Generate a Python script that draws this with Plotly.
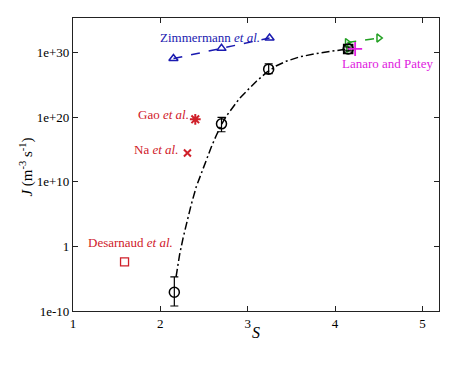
import plotly.graph_objects as go

# ---- data ----
sim_S = [2.16, 2.70, 3.24, 4.15]
sim_J = [8e-8, 1e19, 3e27, 4e30]
sim_J_hi = [2e-5, 1e20, 2e28, 8e30]
sim_J_lo = [6e-10, 6e17, 6e26, 2e30]

fit_S = [2.18, 2.22, 2.26, 2.30, 2.35, 2.41, 2.47, 2.53, 2.58, 2.64, 2.70, 2.76, 2.83, 2.91, 2.99, 3.10, 3.22, 3.33, 3.44, 3.60, 3.83, 4.06, 4.14]
fit_log10J = [-4.7, -1.3, 1.3, 3.6, 6.3, 9.2, 11.4, 13.5, 15.3, 17.2, 18.9, 20.3, 21.6, 23.0, 24.1, 25.6, 27.0, 28.0, 28.7, 29.4, 30.0, 30.45, 30.6]

zim_S = [2.15, 2.70, 3.25]
zim_J = [1.3e29, 5e30, 2e32]

grn_S = [4.14, 4.50]
grn_J = [4e31, 2e32]
grn2_S = [4.15]
grn2_J = [4e30]

lp_S = [4.23]
lp_J = [4e30]

gao_S = [2.40]
gao_J = [5e19]
na_S = [2.31]
na_J = [3e14]
des_S = [1.59]
des_J = [4e-3]

ytick_vals = [1e-10, 1, 1e10, 1e20, 1e30]
ytick_text = ["1e-10", "1", "1e+10", "1e+20", "1e+30"]
xtick_vals = [1, 2, 3, 4, 5]

RED = "#d0202a"
BLUE = "#1a1ab0"
GREEN = "#22a022"
MAG = "#e020e0"

fit_J = [10 ** v for v in fit_log10J]

fig = go.Figure()

fig.add_trace(go.Scatter(x=fit_S, y=fit_J, mode="lines", line=dict(color="black", width=1.5, dash="8px,3px,2px,3px"), hoverinfo="skip"))
fig.add_trace(go.Scatter(x=zim_S, y=zim_J, mode="lines+markers", line=dict(color=BLUE, width=1.5, dash="dash"),
                         marker=dict(symbol="triangle-up-open", size=8, color=BLUE, line=dict(width=1.5))))
fig.add_trace(go.Scatter(x=grn_S, y=grn_J, mode="lines+markers", line=dict(color=GREEN, width=1.5, dash="dash"),
                         marker=dict(symbol="triangle-right-open", size=7, color=GREEN, line=dict(width=1.5))))
fig.add_trace(go.Scatter(x=grn2_S, y=grn2_J, mode="markers",
                         marker=dict(symbol="square-open", size=9, color="black", line=dict(width=1.5))))
fig.add_trace(go.Scatter(x=grn2_S, y=grn2_J, mode="markers",
                         marker=dict(symbol="triangle-right-open", size=6, color=GREEN, line=dict(width=1.2))))

err_plus = [h - v for h, v in zip(sim_J_hi, sim_J)]
err_minus = [v - l for l, v in zip(sim_J_lo, sim_J)]
fig.add_trace(go.Scatter(x=sim_S, y=sim_J, mode="markers",
                         marker=dict(symbol="circle-open", size=10, color="black", line=dict(width=1.5)),
                         error_y=dict(type="data", symmetric=False, array=err_plus, arrayminus=err_minus,
                                      color="black", thickness=1.2, width=4)))
fig.add_trace(go.Scatter(x=lp_S, y=lp_J, mode="markers",
                         marker=dict(symbol="cross-thin-open", size=10, color=MAG, line=dict(width=1.8, color=MAG))))
fig.add_trace(go.Scatter(x=gao_S, y=gao_J, mode="markers",
                         marker=dict(symbol="asterisk-open", size=9, color=RED, line=dict(width=2, color=RED))))
fig.add_trace(go.Scatter(x=na_S, y=na_J, mode="markers",
                         marker=dict(symbol="x-thin-open", size=7, color=RED, line=dict(width=2, color=RED))))
fig.add_trace(go.Scatter(x=des_S, y=des_J, mode="markers",
                         marker=dict(symbol="square-open", size=8, color=RED, line=dict(width=1.3))))

font = "Liberation Serif"
ann = [
    dict(x=2.57, y=32.4, text="Zimmermann <i>et al.</i>", color=BLUE, xanchor="center"),
    dict(x=2.35, y=20.4, text="Gao <i>et al.</i>", color=RED, xanchor="right"),
    dict(x=2.23, y=15.1, text="Na <i>et al.</i>", color=RED, xanchor="right"),
    dict(x=1.66, y=0.6, text="Desarnaud <i>et al.</i>", color=RED, xanchor="center"),
    dict(x=4.60, y=28.3, text="Lanaro and Patey", color=MAG, xanchor="center"),
]
annotations = [dict(x=a["x"], y=a["y"], xref="x", yref="y", text=a["text"], showarrow=False,
                    xanchor=a["xanchor"], yanchor="middle", font=dict(family=font, size=13, color=a["color"])) for a in ann]

# axis titles placed as paper annotations
annotations.append(dict(x=0.499, y=-0.072, xref="paper", yref="paper", text="<i>S</i>", showarrow=False,
                        xanchor="center", yanchor="middle", font=dict(family=font, size=16, color="black")))
annotations.append(dict(x=-0.128, y=0.49, xref="paper", yref="paper", text="<i>J</i> (m<sup>-3</sup> s<sup>-1</sup>)",
                        showarrow=False, textangle=-90, xanchor="center", yanchor="middle",
                        font=dict(family=font, size=15, color="black")))

# the page body adds an 8px offset; plot area is placed to land at (73,18)-(439,311)
fig.update_layout(
    width=474, height=366,
    margin=dict(l=65, r=43, t=10, b=63, autoexpand=False),
    paper_bgcolor="white", plot_bgcolor="white",
    showlegend=False,
    font=dict(family=font, size=13, color="black"),
    annotations=annotations,
    xaxis=dict(range=[1, 5.19], tickvals=xtick_vals, ticks="inside", ticklen=5, showgrid=False, zeroline=False,
               showline=True, mirror="ticks", linecolor="#222", linewidth=1.2, tickcolor="#222", automargin=False),
    yaxis=dict(type="log", range=[-10, 35.4], tickvals=ytick_vals, ticktext=ytick_text, ticks="inside", ticklen=5,
               showgrid=False, zeroline=False, showline=True, mirror="ticks", linecolor="#222", linewidth=1.2, tickcolor="#222",
               automargin=False),
)

fig.write_html("out.html")
